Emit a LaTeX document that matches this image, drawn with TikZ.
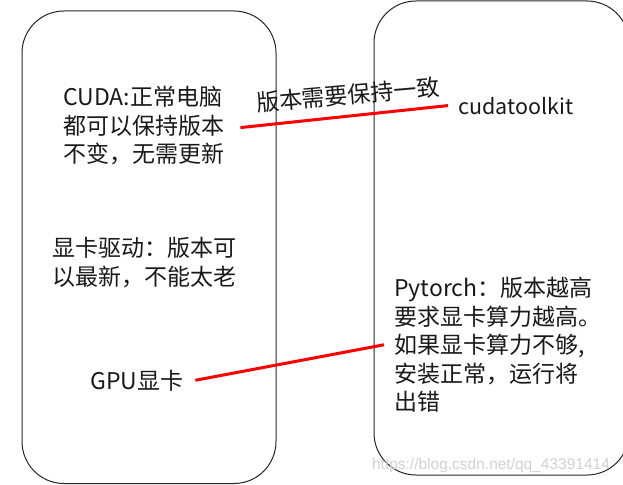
\documentclass[tikz,border=0pt]{standalone}
\usepackage{fontspec}
\setmainfont{Noto Sans CJK SC}
\newfontfamily\wmfont{Liberation Sans}
\begin{document}
\begin{tikzpicture}[x=1pt,y=-1pt,
  panel/.style={draw=black!85,line width=1pt,rounded corners=42pt},
  txt/.style={inner sep=0pt,font=\fontsize{23}{28.5}\selectfont,text=black!90},
  redline/.style={draw=red,line width=3pt},
  wm/.style={inner sep=0pt,font=\wmfont\fontsize{15.5}{18}\selectfont,text=black!18}]
\useasboundingbox (0,0) rectangle (623,484);
\clip (0,0) rectangle (623,484);
% panels
\draw[panel] (22,11) rectangle (276,483.5);
\draw[panel] (374,1) rectangle (629,475);
% texts
\node[txt,anchor=north west,align=left] (cuda) at (63,86) {CUDA:正常电脑\\都可以保持版本\\不变，无需更新};
\node[txt,anchor=north west,align=left] (driver) at (52,237) {显卡驱动：版本可\\以最新，不能太老};
\node[txt,anchor=base west] (gpu) at (90,389) {GPU显卡};
\node[txt,anchor=base west,font=\fontsize{21.5}{26}\selectfont] (tool) at (458,114) {cudatoolkit};
\node[txt,anchor=north west,align=left] (torch) at (394,277) {Pytorch：版本越高\\要求显卡算力越高。\\如果显卡算力不够,\\安装正常，运行将\\出错};
\node[txt,rotate=5] (keep) at (348,95) {版本需要保持一致};
% connectors
\draw[redline] ([xshift=16pt,yshift=-2pt]cuda.east) -- ([xshift=-10pt]tool.west);
\draw[redline] ([xshift=12pt]gpu.east) -- ([xshift=-10pt]torch.west);
% watermark
\node[wm] (mark) at (491,465) {https://blog.csdn.net/qq\_43391414};
\end{tikzpicture}
\end{document}
